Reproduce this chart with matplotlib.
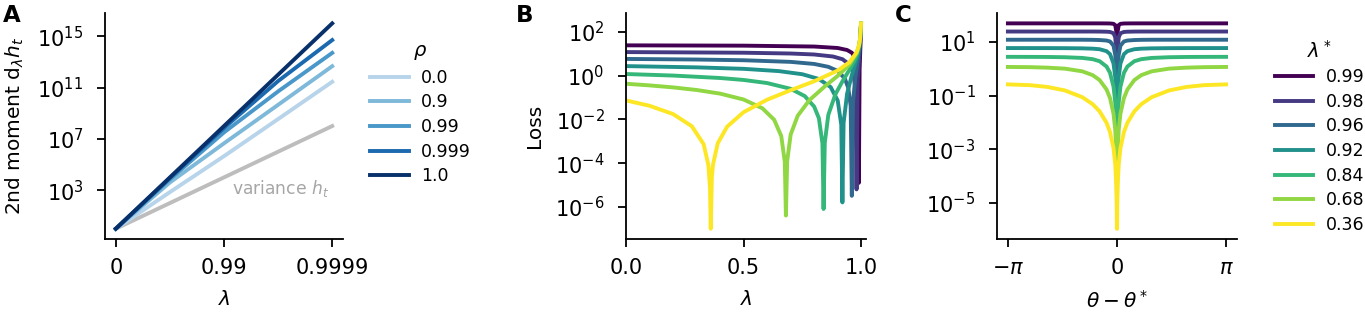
import numpy as np
import matplotlib
matplotlib.use("Agg")
import matplotlib.pyplot as plt
from matplotlib.ticker import NullLocator

# ---- panel A: second moment vs lambda, one line per rho ----
lam_a = [0, 0.9, 0.99, 0.999, 0.9999]
rho_labels = ["0.0", "0.9", "0.99", "0.999", "1.0"]
mom_rho0 = [1, 7.1e2, 4.5e5, 3.5e8, 2.8e11]
mom_rho09 = [1, 4.0e3, 4.5e6, 4.5e9, 4.6e12]
mom_rho099 = [1, 7.1e3, 3.2e7, 5.0e10, 5.0e13]
mom_rho0999 = [1, 8.9e3, 7.1e7, 3.2e11, 5.0e14]
mom_rho1 = [1, 1e4, 1e8, 1e12, 1e16]
var_h = [1, 1e2, 1e4, 1e6, 1e8]

# ---- panel B: loss vs lambda, one curve per target lambda* ----
lstar_labels = ["0.99", "0.98", "0.96", "0.92", "0.84", "0.68", "0.36"]
lam_099 = [0, 0.5, 0.8, 0.9, 0.94, 0.96, 0.975, 0.983, 0.987, 0.98999, 0.993, 0.996, 0.999]
loss_099 = [24.6, 23.8, 21.7, 18.6, 15.0, 11.3, 6.48, 2.69, 0.757, 1.26e-5, 1.90, 16.1, 184]
lam_098 = [0, 0.5, 0.7, 0.8, 0.88, 0.92, 0.95, 0.965, 0.975, 0.97998, 0.985, 0.99, 0.995, 0.999]
loss_098 = [12.1, 11.3, 10.4, 9.39, 7.58, 5.72, 3.26, 1.48, 0.281, 6.3e-6, 0.600, 4.19, 22.6, 215]
lam_096 = [0, 0.3, 0.5, 0.7, 0.8, 0.86, 0.9, 0.93, 0.945, 0.955, 0.95996, 0.965, 0.975, 0.985,
           0.99, 0.995, 0.999]
loss_096 = [5.88, 5.52, 5.12, 4.31, 3.46, 2.56, 1.66, 0.750, 0.276, 0.0418, 3.2e-6, 0.0607, 0.879,
            4.79, 11.3, 34.2, 232]
lam_092 = [0, 0.3, 0.5, 0.65, 0.75, 0.82, 0.87, 0.9, 0.915, 0.9199, 0.925, 0.94, 0.96, 0.975,
           0.985, 0.99, 0.995, 0.999]
loss_092 = [2.76, 2.42, 2.07, 1.63, 1.17, 0.710, 0.302, 0.0728, 0.00582, 1.6e-6, 0.00700, 0.154,
            1.07, 3.67, 9.39, 17.2, 41.6, 241]
lam_084 = [0, 0.2, 0.4, 0.5, 0.6, 0.7, 0.76, 0.8, 0.82, 0.835, 0.8398, 0.845, 0.86, 0.89, 0.92,
           0.95, 0.97, 0.98, 0.99, 0.995, 0.999]
loss_084 = [1.20, 1.02, 0.788, 0.641, 0.463, 0.252, 0.117, 0.0385, 0.0113, 8.0e-4, 8.0e-7, 8.7e-4,
            0.0162, 0.141, 0.552, 1.88, 4.76, 8.67, 20.9, 45.7, 246]
lam_068 = [0, 0.1, 0.2, 0.3, 0.4, 0.5, 0.58, 0.63, 0.66, 0.675, 0.6797, 0.685, 0.7, 0.73, 0.78,
           0.85, 0.9, 0.95, 0.98, 0.99, 0.995, 0.999]
loss_068 = [0.430, 0.362, 0.293, 0.223, 0.152, 0.0816, 0.0323, 0.00963, 0.00173, 1.15e-4, 4.0e-7,
            1.2e-4, 0.00205, 0.0148, 0.0774, 0.362, 0.984, 3.23, 10.6, 23.0, 48.0, 248]
lam_036 = [0, 0.1, 0.2, 0.28, 0.33, 0.35, 0.357, 0.3603, 0.365, 0.37, 0.39, 0.43, 0.5, 0.6, 0.7,
           0.8, 0.9, 0.95, 0.98, 0.99, 0.995, 0.999]
loss_036 = [0.0745, 0.0422, 0.0177, 0.00488, 7.4e-4, 8.4e-5, 7.7e-6, 1.0e-7, 2.2e-5, 8.7e-5, 8.1e-4,
            4.7e-3, 0.0216, 0.0802, 0.218, 0.559, 1.73, 4.18, 11.7, 24.2, 49.2, 249]

# ---- panel C: loss vs phase difference ----
theta = [-3.1416, -2.5, -2.0, -1.5, -1.0, -0.7, -0.5, -0.3, -0.2, -0.1, -0.05, -0.02, -0.008,
         -0.00315, 0.00315, 0.008, 0.02, 0.05, 0.1, 0.2, 0.3, 0.5, 0.7, 1.0, 1.5, 2.0, 2.5, 3.1416]
c_099 = [49.7, 49.7, 49.7, 49.7, 49.7, 49.7, 49.7, 49.5, 49.3, 47.8, 42.8, 24.8, 6.80, 1.19,
         1.19, 6.80, 24.8, 42.8, 47.8, 49.3, 49.5, 49.7, 49.7, 49.7, 49.7, 49.7, 49.7, 49.7]
c_098 = [24.7, 24.7, 24.7, 24.7, 24.7, 24.7, 24.6, 24.3, 23.8, 21.3, 15.0, 4.87, 0.934, 0.150,
         0.150, 0.934, 4.87, 15.0, 21.3, 23.8, 24.3, 24.6, 24.7, 24.7, 24.7, 24.7, 24.7, 24.7]
c_096 = [12.2, 12.2, 12.2, 12.2, 12.2, 12.1, 11.9, 11.4, 10.5, 7.35, 3.34, 0.693, 0.116, 0.0182,
         0.0182, 0.116, 0.693, 3.34, 7.35, 10.5, 11.4, 11.9, 12.1, 12.2, 12.2, 12.2, 12.2, 12.2]
c_092 = [5.97, 5.96, 5.95, 5.92, 5.83, 5.67, 5.40, 4.58, 3.54, 1.59, 0.495, 0.0850, 0.0138, 0.00214,
         0.00214, 0.0138, 0.0850, 0.495, 1.59, 3.54, 4.58, 5.40, 5.67, 5.83, 5.92, 5.95, 5.96, 5.97]
c_084 = [2.81, 2.80, 2.78, 2.72, 2.56, 2.30, 1.93, 1.22, 0.710, 0.218, 0.0578, 0.00940, 0.00151,
         2.34e-4, 2.34e-4, 0.00151, 0.00940, 0.0578, 0.218, 0.710, 1.22, 1.93, 2.30, 2.56, 2.72,
         2.78, 2.80, 2.81]
c_068 = [1.18, 1.16, 1.11, 1.02, 0.810, 0.584, 0.383, 0.170, 0.0816, 0.0214, 0.00542, 8.70e-4,
         1.39e-4, 2.16e-5, 2.16e-5, 1.39e-4, 8.70e-4, 0.00542, 0.0214, 0.0816, 0.170, 0.383, 0.584,
         0.810, 1.02, 1.11, 1.16, 1.18]
c_036 = [0.264, 0.247, 0.212, 0.157, 0.0882, 0.0483, 0.0261, 0.00977, 0.00440, 0.00111, 2.77e-4,
         4.44e-5, 7.10e-6, 1.10e-6, 1.10e-6, 7.10e-6, 4.44e-5, 2.77e-4, 0.00111, 0.00440, 0.00977,
         0.0261, 0.0483, 0.0882, 0.157, 0.212, 0.247, 0.264]

plt.rcParams["font.family"] = ["DejaVu Sans"]
plt.rcParams["font.size"] = 15
plt.rcParams["axes.labelsize"] = 14.5
plt.rcParams["axes.linewidth"] = 1.3
for ax_ in ("xtick", "ytick"):
    plt.rcParams[ax_ + ".major.size"] = 6
    plt.rcParams[ax_ + ".major.width"] = 1.3
plt.rcParams["xtick.major.pad"] = 8
plt.rcParams["ytick.major.pad"] = 9.5

lw = 2.8
fig = plt.figure(figsize=(13.65, 3.12), dpi=100)
axA = fig.add_axes([0.0769, 0.234, 0.1744, 0.724])
axB = fig.add_axes([0.4586, 0.234, 0.1758, 0.724])
axC = fig.add_axes([0.7304, 0.234, 0.1758, 0.724])
for ax in (axA, axB, axC):
    ax.spines["top"].set_visible(False)
    ax.spines["right"].set_visible(False)


def fwd(l):
    with np.errstate(all="ignore"):
        return -np.log10(1 - np.asarray(l, dtype=float))


def inv(x):
    return 1 - 10.0 ** (-np.asarray(x, dtype=float))


# A
axA.set_xscale("function", functions=(fwd, inv))
axA.set_yscale("log")
axA.plot(lam_a, var_h, color="#bdbdbd", lw=lw)
blues = plt.cm.Blues([0.3, 0.45, 0.6, 0.78, 1.0])
for ys, lab, col in zip([mom_rho0, mom_rho09, mom_rho099, mom_rho0999, mom_rho1], rho_labels, blues):
    axA.plot(lam_a, ys, color=col, lw=lw, label=lab)
axA.set_xticks([0, 0.99, 0.9999])
axA.set_xticklabels(["0", "0.99", "0.9999"])
axA.xaxis.set_minor_locator(NullLocator())
axA.set_yticks([1e3, 1e7, 1e11, 1e15])
axA.set_yticklabels(["$10^{3}$", "$10^{7}$", "$10^{11}$", "$10^{15}$"])
axA.yaxis.set_minor_locator(NullLocator())
axA.set_xlabel("$\\lambda$", labelpad=8)
axA.set_ylabel("2nd moment d$_\\lambda h_t$", labelpad=8)
axA.text(0.99303, 10 ** 3.15, "variance $h_t$", color="#a6a6a6", fontsize=12.3,
         ha="left", va="center")
axA.legend(title="$\\rho$", loc="upper left", bbox_to_anchor=(0.2662, 0.89),
           bbox_transform=fig.transFigure, frameon=False, fontsize=12.5, title_fontsize=14,
           handlelength=2.2, handletextpad=0.7, labelspacing=0.38, borderaxespad=0)

# B and C
vir = plt.cm.viridis(np.linspace(0, 1, 7))
lam_b = [lam_099, lam_098, lam_096, lam_092, lam_084, lam_068, lam_036]
loss_b = [loss_099, loss_098, loss_096, loss_092, loss_084, loss_068, loss_036]
for xs, ys, col in zip(lam_b, loss_b, vir):
    axB.plot(xs, ys, color=col, lw=lw)
axB.set_yscale("log")
axB.set_xlim(0, 1.02)
axB.set_xticks([0.0, 0.5, 1.0])
axB.set_xticklabels(["0.0", "0.5", "1.0"])
axB.set_yticks([1e-6, 1e-4, 1e-2, 1e0, 1e2])
axB.set_yticklabels(["$10^{-6}$", "$10^{-4}$", "$10^{-2}$", "$10^{0}$", "$10^{2}$"])
axB.yaxis.set_minor_locator(NullLocator())
axB.set_xlabel("$\\lambda$", labelpad=8)
axB.set_ylabel("Loss", labelpad=8)

loss_c = [c_099, c_098, c_096, c_092, c_084, c_068, c_036]
for ys, lab, col in zip(loss_c, lstar_labels, vir):
    axC.plot(theta, ys, color=col, lw=lw, label=lab)
axC.set_yscale("log")
axC.set_xticks([-np.pi, 0, np.pi])
axC.set_xticklabels(["$-\\pi$", "0", "$\\pi$"])
axC.set_yticks([1e-5, 1e-3, 1e-1, 1e1])
axC.set_yticklabels(["$10^{-5}$", "$10^{-3}$", "$10^{-1}$", "$10^{1}$"])
axC.yaxis.set_minor_locator(NullLocator())
axC.set_xlabel("$\\theta - \\theta^*$", labelpad=8)
axC.legend(title="$\\lambda^*$", loc="upper left", bbox_to_anchor=(0.9292, 0.895),
           bbox_transform=fig.transFigure, frameon=False, fontsize=12.5, title_fontsize=14,
           handlelength=2.2, handletextpad=0.7, labelspacing=0.38, borderaxespad=0)

for x, s in [(0.002, "A"), (0.378, "B"), (0.6558, "C")]:
    fig.text(x, 0.930, s, fontsize=16.5, fontweight="bold", va="baseline")

fig.savefig("out.png", dpi=100)
